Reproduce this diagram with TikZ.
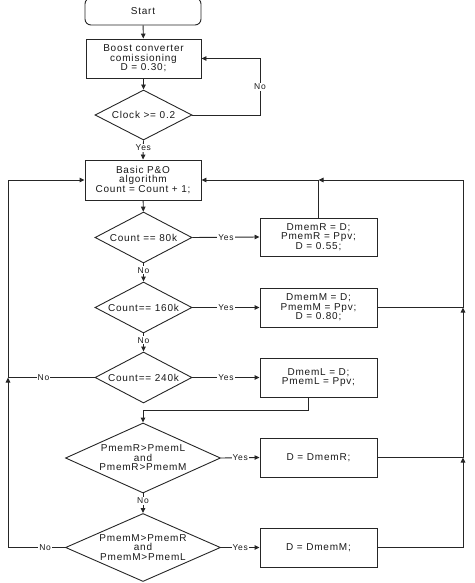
\documentclass[tikz,border=0pt]{standalone}
\usepackage{fontspec}
\setmainfont{Liberation Sans}[LetterSpace=8]
\usetikzlibrary{shapes.geometric,arrows.meta}
\tikzset{
  base/.style={draw=black!85, line width=0.9pt, inner sep=0pt, align=center,
    font=\fontsize{10}{9.4}\selectfont, text=black!90},
  procbox/.style={base, rectangle, minimum width=#1, minimum height=39pt},
  startbox/.style={base, rectangle, rounded corners=6pt, minimum width=116pt, minimum height=27pt},
  decide/.style={base, diamond},
  conn/.style={draw=black!85, line width=0.9pt},
  arr/.style={conn, -{Triangle[length=5pt,width=4.5pt]}},
  lbl/.style={fill=white, inner sep=1pt, font=\fontsize{8.5}{9}\selectfont, text=black!90}
}
\begin{document}
\begin{tikzpicture}[x=1pt,y=-1pt]
\useasboundingbox (0,0) rectangle (474,583);
% nodes
\node[startbox] (start) at (143,11.5) {Start};
\node[procbox=115pt] (boost) at (143.5,58.5) {Boost converter\\comissioning\\D = 0.30;};
\node[decide, minimum width=97pt, minimum height=50pt, shape aspect=1.94] (clock) at (143.5,115) {Clock >= 0.2};
\node[procbox=116pt, minimum height=40pt] (basic) at (143,180) {Basic P\&O\\algorithm\\Count = Count + 1;};
\node[decide, minimum width=97pt, minimum height=51pt, shape aspect=1.9] (c80) at (143.5,237.5) {Count == 80k};
\node[procbox=117pt, minimum height=38pt] (r80) at (318.5,237) {DmemR = D;\\PmemR = Ppv;\\D = 0.55;};
\node[decide, minimum width=97pt, minimum height=51pt, shape aspect=1.9] (c160) at (143.5,307.5) {Count== 160k};
\node[procbox=117pt] (r160) at (318.5,307.5) {DmemM = D;\\PmemM = Ppv;\\D = 0.80;};
\node[decide, minimum width=97pt, minimum height=51pt, shape aspect=1.9] (c240) at (143.5,377.5) {Count== 240k};
\node[procbox=117pt] (r240) at (318.5,377.5) {DmemL = D;\\PmemL = Ppv;};
\node[decide, minimum width=155pt, minimum height=70pt, shape aspect=2.21] (d4) at (143,458) {PmemR>PmemL\\and\\PmemR>PmemM};
\node[procbox=117pt] (r4) at (318.5,457.5) {D = DmemR;};
\node[decide, minimum width=155pt, minimum height=68pt, shape aspect=2.28] (d5) at (143,547.5) {PmemM>PmemR\\and\\PmemM>PmemL};
\node[procbox=117pt] (r5) at (318.5,547.5) {D = DmemM;};
% helper coordinates
\coordinate (noX) at (260,0);
\coordinate (L) at (8,0);
\coordinate (R) at (463,0);
\coordinate (j4) at (143,410);
% connectors
\draw[arr] (start) -- (boost);
\draw[arr] (boost) -- (clock);
\draw[arr] (clock.east) -- (clock.east -| noX) -- node[lbl]{No} (boost.east -| noX) -- (boost.east);
\draw[arr] (clock.south) -- node[lbl,pos=0.38]{Yes} (basic.north);
\draw[arr] (basic) -- (c80);
\draw[arr] (c80.east) -- node[lbl]{Yes} (r80.west);
\draw[arr] (c80.south) -- node[lbl,pos=0.38]{No} (c160.north);
\draw[arr] (c160.east) -- node[lbl]{Yes} (r160.west);
\draw[arr] (c160.south) -- node[lbl,pos=0.38]{No} (c240.north);
\draw[arr] (c240.east) -- node[lbl]{Yes} (r240.west);
\draw[arr] ([xshift=-10pt]r240.south) |- (j4) -- (d4.north);
\draw[arr] (d4.east) -- node[lbl]{Yes} (r4.west);
\draw[arr] (d4.south) -- node[lbl,pos=0.38]{No} (d5.north);
\draw[arr] (d5.east) -- node[lbl]{Yes} (r5.west);
% left return
\draw[arr] (d5.west) -- node[lbl,pos=0.35]{No} (d5.west -| L) -- (c240.west -| L);
\draw[arr] (c240.west) -- node[lbl,pos=0.59]{No} (c240.west -| L) -- (basic.west -| L) -- (basic.west);
% right return
\draw[arr] (r5.east) -- (r5.east -| R) -- (r4.east -| R);
\draw[arr] (r4.east) -- (r4.east -| R) -- (r160.east -| R);
\draw[arr] (r160.east) -- (r160.east -| R) -- (basic.east -| R) -- (r80.north |- basic.east);
\draw[arr] (r80.north) -- (r80.north |- basic.east) -- (basic.east);
\end{tikzpicture}
\end{document}
